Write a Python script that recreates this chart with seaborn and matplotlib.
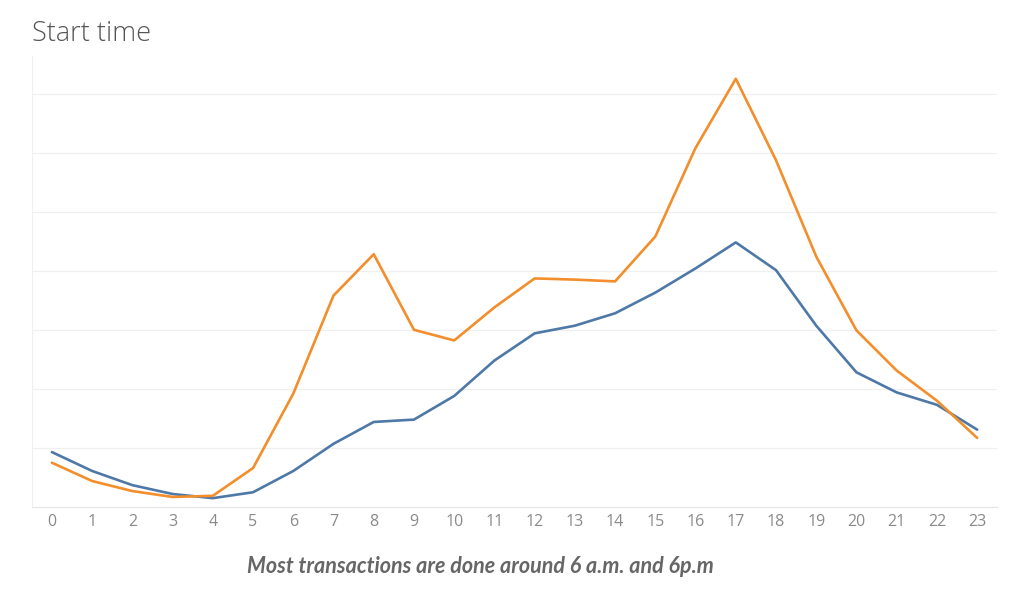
import numpy as np
import pandas as pd
import matplotlib.pyplot as plt
import seaborn as sns

# hours of the day and the two series (arbitrary units)
horas = list(range(24))
serie_azul = [0.93, 0.61, 0.37, 0.22, 0.15, 0.25, 0.61, 1.07, 1.44, 1.48, 1.88, 2.48,
              2.94, 3.07, 3.28, 3.63, 4.04, 4.48, 4.01, 3.07, 2.28, 1.94, 1.73, 1.31]
serie_naranja = [0.75, 0.44, 0.27, 0.17, 0.19, 0.66, 1.92, 3.58, 4.28, 3.00, 2.82, 3.38,
                 3.87, 3.85, 3.82, 4.58, 6.08, 7.25, 5.87, 4.24, 2.99, 2.31, 1.80, 1.17]
etiquetas_x = [str(h) for h in horas]

df = pd.DataFrame({
    'Hora': horas * 2,
    'Valor': serie_azul + serie_naranja,
    'Serie': ['azul'] * 24 + ['naranja'] * 24,
})

sns.set_style('white')
plt.rcParams['font.family'] = ['Lato', 'DejaVu Sans']

fig = plt.figure(figsize=(10.26, 5.93), dpi=100)
ax = fig.add_axes([0.031, 0.145, 0.941, 0.761])

sns.lineplot(data=df, x='Hora', y='Valor', hue='Serie',
             palette={'azul': '#4e79a7', 'naranja': '#f28e2b'},
             linewidth=1.9, legend=False, ax=ax)

ax.set_xlim(-0.5, 23.5)
ax.set_ylim(0, 7.64)
ax.set_yticks(range(0, 8))
ax.set_yticklabels([])
ax.grid(axis='y', color='#f0f0f0', linewidth=0.9)
ax.set_xticks(horas)
ax.set_xticklabels(etiquetas_x, color='#8a8a8a', fontsize=11.5,
                   family=['Open Sans', 'DejaVu Sans'])
ax.tick_params(axis='x', length=0, pad=5)
ax.tick_params(axis='y', length=0)
ax.set_xticks(np.arange(-0.5, 24, 1), minor=True)
ax.tick_params(axis='x', which='minor', length=4, color='#e6e6e6', width=0.8)
ax.set_xlabel('')
ax.set_ylabel('')

for lado in ['top', 'right']:
    ax.spines[lado].set_visible(False)
ax.spines['left'].set_color('#f0f0f0')
ax.spines['bottom'].set_color('#e6e6e6')
ax.spines['left'].set_linewidth(0.8)
ax.spines['bottom'].set_linewidth(0.8)

fig.text(0.031, 0.942, 'Start time', fontsize=19.5, color='#555555',
         family=['Open Sans', 'DejaVu Sans'], fontweight='light',
         ha='left', va='center')
fig.text(0.468, 0.045, 'Most transactions are done around 6 a.m. and 6p.m',
         fontsize=15.5, color='#666666', fontweight='bold', fontstyle='italic',
         ha='center', va='center')

fig.savefig('out.png', dpi=100, facecolor='white')
